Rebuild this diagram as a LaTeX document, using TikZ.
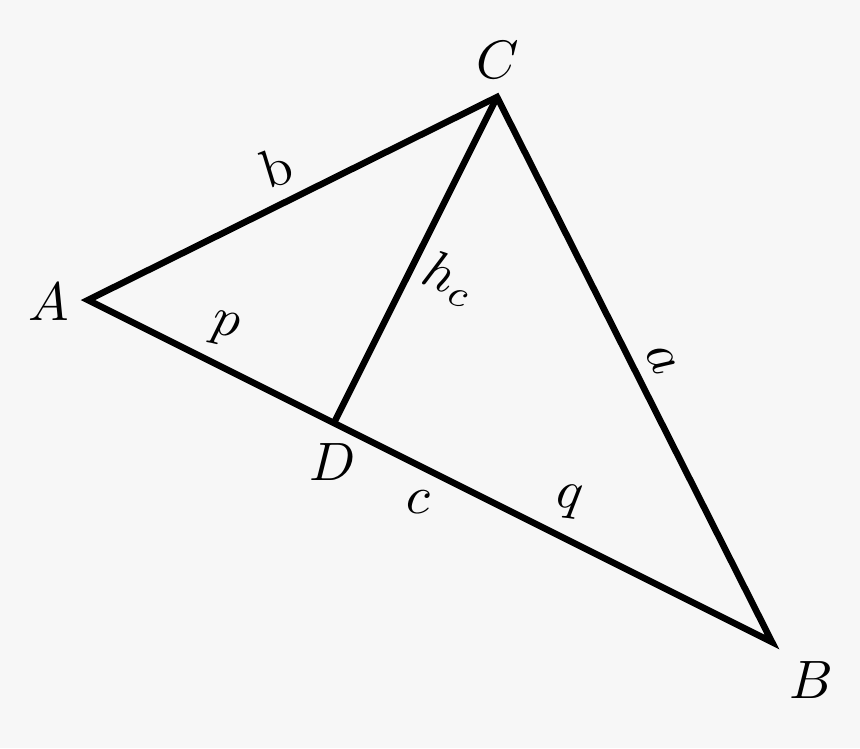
\documentclass[tikz,border=0pt]{standalone}
\usetikzlibrary{calc}
\begin{document}
\begin{tikzpicture}[x=0.0065cm,y=-0.0065cm]
        %% background
        \fill[black!3] (0,0) rectangle (860,748);
        %% vertices
        \coordinate (A) at (88,300);
        \coordinate (C) at (497,97);
        \coordinate (B) at (772,642);
        \coordinate (D) at ($(A)!(C)!(B)$);
        %% triangle and height
        \draw[very thick] (A) -- (C) -- (B) -- cycle;
        \draw[very thick] (C) -- (D);
        %% vertex names
        \node (nA) at (49,302) {$A$};
        \node (nC) at (498,60) {$C$};
        \node (nB) at (811,680) {$B$};
        \node (nD) at (333,462) {$D$};
        %% side names
        \node[rotate=17] (nb) at (276,167) {$\mathrm{b}$};
        \node[rotate=-63] (na) at (661,360) {$a$};
        \node[rotate=-23] (nh) at (450,279) {$h_c$};
        \node[rotate=-12] (np) at (225,329) {$p$};
        \node[rotate=-7] (nq) at (569,502) {$q$};
        \node[rotate=-5] (nc) at (418,502) {$c$};
\end{tikzpicture}
\end{document}
